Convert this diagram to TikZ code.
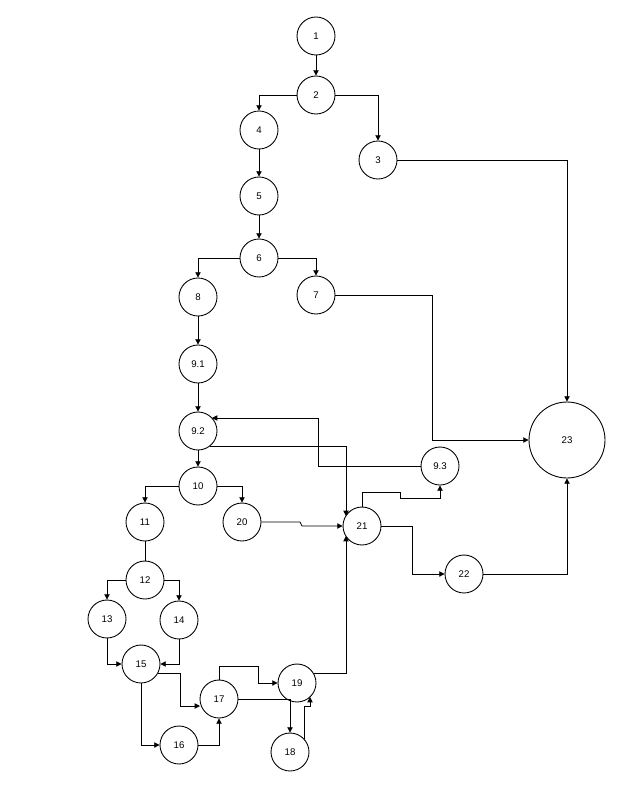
\documentclass[tikz,border=0pt]{standalone}
\usepackage{fontspec}
\setmainfont{Liberation Sans}
\usetikzlibrary{arrows.meta}
\begin{document}
\begin{tikzpicture}[x=0.02cm,y=-0.02cm,
  st/.style={circle,draw,minimum size=0.76cm,inner sep=0pt,font=\fontsize{5.5}{6}\selectfont},
  ar/.style={-{Triangle[length=3pt,width=3pt]},line width=0.5pt},
  every path/.style={line width=0.5pt}]
\useasboundingbox (0,0) rectangle (633,787);
\node[st] (n1) at (316,36) {1};
\node[st] (n2) at (316,95) {2};
\node[st] (n4) at (259,130) {4};
\node[st] (n3) at (378,160) {3};
\node[st] (n5) at (259,196) {5};
\node[st] (n6) at (259,258) {6};
\node[st] (n8) at (198,297) {8};
\node[st] (n7) at (316,295) {7};
\node[st] (n91) at (198,364) {9.1};
\node[st] (n92) at (198,431) {9.2};
\node[st,minimum size=1.52cm] (n23) at (567,440) {23};
\node[st] (n93) at (440,466) {9.3};
\node[st] (n10) at (198,486) {10};
\node[st] (n11) at (145,522) {11};
\node[st] (n20) at (242,522) {20};
\node[st] (n21) at (362,526) {21};
\node[st] (n12) at (145,580) {12};
\node[st] (n22) at (464,574) {22};
\node[st] (n13) at (107,619) {13};
\node[st] (n14) at (179,620) {14};
\node[st] (n15) at (141,664) {15};
\node[st] (n19) at (297,683) {19};
\node[st] (n17) at (219,699) {17};
\node[st] (n16) at (179,745) {16};
\node[st] (n18) at (290,752) {18};
\coordinate (a92) at (212,418);
\coordinate (b92) at (210,446);
\coordinate (t21) at (346,516);
\coordinate (u21) at (346,536);
\coordinate (t18) at (304,739);
\coordinate (b19) at (310,697);

\draw[ar] (n1) -- (n2);
\draw[ar] (n2.west) -| (n4.north);
\draw[ar] (n2.east) -| (n3.north);
\draw[ar] (n3.east) -| (n23.north);
\draw[ar] (n4) -- (n5);
\draw[ar] (n5) -- (n6);
\draw[ar] (n6.west) -| (n8.north);
\draw[ar] (n6.east) -| (n7.north);
\draw[ar] (n7.east) -| (432,440) -- (n23.west);
\draw[ar] (n8) -- (n91);
\draw[ar] (n91) -- (n92);
\draw[ar] (n92) -- (n10);
\draw[ar] (b92) -| (t21);
\draw[ar] (n93.west) -| (318,418) -- (a92);
\draw[ar] (n21.north) |- (400,492) |- (440,498) -- (n93.south);
\draw[ar] (n10.west) -| (n11.north);
\draw[ar] (n10.east) -| (n20.north);
\draw[ar] (n20.east) -- (300,522) -- (302,526) -- (n21.west);
\draw[ar] (n21.east) -| (412,574) -- (n22.west);
\draw[ar] (n22.east) -| (n23.south);
\draw (n11) -- (n12);
\draw[ar] (n12.west) -| (n13.north);
\draw[ar] (n12.east) -| (n14.north);
\draw[ar] (n13.south) |- (n15.west);
\draw[ar] (n14.south) |- (n15.east);
\draw[ar] (n15.-30) -| (180,706) -- (200,706);
\draw[ar] (n15.south) |- (n16.west);
\draw[ar] (n16.east) -| (n17.south);
\draw[ar] (n17.north) |- (258,666) |- (n19.west);
\draw[ar] (n17.east) -| (n18.north);
\draw[ar] (t18) -- (304,706) -- (310,706) -- (b19);
\draw[ar] (n19.30) -| (u21);
\end{tikzpicture}
\end{document}
